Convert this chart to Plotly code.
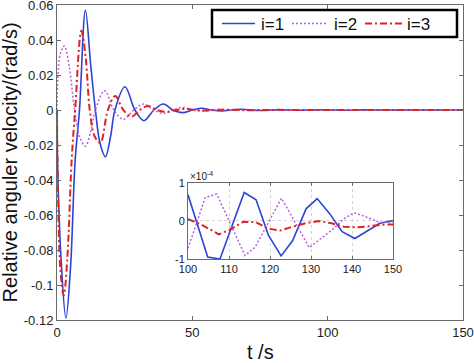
import plotly.graph_objects as go

# ---------------- data ----------------
# main view (t in s, velocity in rad/s)
t_i1 = [0, 0.2, 1.5, 3.3, 5.0, 6.7, 8.3, 10.5, 12.5, 14.2, 15.9, 17.9, 19.8, 21.4, 25.1, 28.8, 32.1, 35.8,
        39.3, 42.8, 46.4, 50.0, 53.5, 57.0, 60.5, 67.6, 75.0, 82.0, 89.0, 96.0]
v_i1 = [0, -0.03, -0.085, -0.119, -0.09, -0.029, 0.0, 0.057, 0.025, 0.0, -0.019, -0.0267, -0.015, 0.0, 0.0133,
        0.0, -0.0061, 0.0, 0.0034, 0.0, -0.0015, 0.0, 0.001, 0.0, -0.0006, 0.0004, -0.0003, 0.0002, -0.00015, 0.0001]

t_i2 = [0, 0.3, 1.2, 2.7, 4.5, 6.5, 8.5, 10.5, 12.5, 14.2, 17.6, 21.0, 24.5, 28.3, 32.1, 35.7, 39.3, 43.0,
        46.5, 50.0, 54.0, 61.0, 68.0, 75.0, 82.0, 89.0, 96.0]
v_i2 = [0, 0.018, 0.032, 0.0366, 0.025, 0.0, -0.016, -0.0206, -0.012, 0.0, 0.011, 0.0, -0.0053, 0.0, 0.0034,
        0.0, -0.0019, 0.0, 0.0015, 0.0, -0.0006, 0.0003, -0.0002, 0.00015, -0.0001, 0.0001, -0.00008]

t_i3 = [0, 0.3, 1.2, 2.5, 3.8, 5.4, 6.7, 9.0, 10.6, 12.1, 13.9, 16.0, 18.8, 21.5, 24.5, 27.6, 30.6, 33.7,
        37.0, 40.5, 44.0, 47.0, 54.0, 61.0, 70.0, 80.0, 90.0]
v_i3 = [0, -0.04, -0.09, -0.106, -0.085, -0.029, 0.0, 0.0453, 0.03, 0.0, -0.015, -0.0187, 0.0, 0.008, 0.0,
        -0.0038, 0.0, 0.0023, 0.0, -0.001, 0.0, 0.0006, -0.0003, 0.0002, -0.0001, 0.00005, -0.00003]

# zoomed view, t from 100 to 150 s, velocity in units of 1e-4 rad/s
zt_i1 = [100, 104.8, 107.8, 113.7, 116.6, 119.6, 122.7, 125.5, 128.8, 131.5, 134.5, 137.6, 140.7, 143.7, 146.8, 150]
zv_i1 = [0.69, -0.95, -1.0, 0.75, 0.56, -0.37, -0.92, -0.52, 0.32, 0.59, 0.2, -0.28, -0.46, -0.26, -0.06, 0.01]

zt_i2 = [100, 104.2, 107.0, 113.9, 116.3, 122.8, 129.6, 132.6, 135.5, 137.9, 140.5, 143.6, 146.8, 150]
zv_i2 = [-0.72, 0.62, 0.71, -0.91, -0.7, 0.6, -0.7, -0.45, -0.2, 0.05, 0.22, 0.1, -0.04, -0.03]

zt_i3 = [100, 103.0, 107.5, 110.0, 113.5, 116.5, 119.5, 122.5, 125.5, 129.0, 132.0, 135.0, 138.0, 141.0, 144.0, 147.0, 150]
zv_i3 = [0.05, -0.08, -0.35, -0.24, -0.02, -0.03, -0.2, -0.25, -0.15, -0.05, 0.0, -0.06, -0.15, -0.17, -0.14, -0.1, -0.09]

series_names = ["i=1", "i=2", "i=3"]
y_tickvals = [-0.12, -0.1, -0.08, -0.06, -0.04, -0.02, 0, 0.02, 0.04, 0.06]
y_ticktext = ["-0.12", "-0.1", "-0.08", "-0.06", "-0.04", "-0.02", "0", "0.02", "0.04", "0.06"]
x_tickvals = [0, 50, 100, 150]
zx_tickvals = [100, 110, 120, 130, 140, 150]
zy_tickvals = [-1, 0, 1]

# ---------------- styling ----------------
colors = ["#2b44d6", "#b462de", "#e02320"]
dashes = ["solid", "2px,2px", "7px,3px,2px,3px"]
widths = [1.6, 1.5, 2.0]
FONT = "Liberation Sans, Arial, sans-serif"
AXC = "#6a6a6a"

W, H = 474, 363
ML, MR, MT, MB = 57, 11, 5, 43
PW, PH = W - ML - MR, H - MT - MB


def px_to_paper(x, y):
    return (x - ML) / PW, (H - MB - y) / PH


fig = go.Figure()

main = [(t_i1, v_i1, zt_i1, zv_i1), (t_i2, v_i2, zt_i2, zv_i2), (t_i3, v_i3, zt_i3, zv_i3)]
for k, (t, v, zt, zv) in enumerate(main):
    tt = list(t) + list(zt)
    vv = list(v) + [z * 1e-4 for z in zv]
    fig.add_trace(go.Scatter(x=tt, y=vv, mode="lines", name=series_names[k], showlegend=False,
                             line=dict(color=colors[k], width=widths[k], dash=dashes[k],
                                       shape="spline", smoothing=1.0),
                             xaxis="x", yaxis="y"))
for k, (t, v, zt, zv) in enumerate(main):
    fig.add_trace(go.Scatter(x=zt, y=zv, mode="lines", showlegend=False,
                             line=dict(color=colors[k], width=widths[k], dash=dashes[k]),
                             xaxis="x2", yaxis="y2"))

annotations = [
    dict(text="×10<sup>-4</sup>", xref="x2 domain", yref="y2 domain", x=0.0, y=1.0,
         xanchor="left", yanchor="bottom", showarrow=False, font=dict(size=10, color="#222"),
         yshift=-1),
    dict(text="t /s", xref="paper", yref="paper", x=0.5, y=-0.1016, xanchor="center",
         yanchor="middle", showarrow=False, font=dict(size=20, color="#111")),
    dict(text="Relative anguler velocity/(rad/s)", xref="paper", yref="paper", x=-0.116, y=0.5,
         xanchor="center", yanchor="middle", textangle=-90, showarrow=False,
         font=dict(size=20, color="#111")),
]

shapes = [dict(type="rect", xref="x2 domain", yref="y2 domain", x0=0, x1=1, y0=0, y1=1,
               fillcolor="white", line=dict(width=0), layer="below")]

# legend box (drawn as a framed box like the MATLAB legend)
bx0, by0 = px_to_paper(212, 37)
bx1, by1 = px_to_paper(457, 10)
shapes.append(dict(type="rect", xref="paper", yref="paper", x0=bx0, x1=bx1, y0=by0, y1=by1,
                   fillcolor="white", line=dict(color="black", width=2.5), layer="above"))
leg_line_x = [(222, 255), (292, 327), (365, 402)]
leg_text_x = [259, 332, 405]
leg_y = 23.5
for k in range(3):
    lx0, ly = px_to_paper(leg_line_x[k][0], leg_y)
    lx1, _ = px_to_paper(leg_line_x[k][1], leg_y)
    shapes.append(dict(type="line", xref="paper", yref="paper", x0=lx0, x1=lx1, y0=ly, y1=ly,
                       line=dict(color=colors[k], width=widths[k], dash=dashes[k]), layer="above"))
    tx, ty = px_to_paper(leg_text_x[k], leg_y + 0.5)
    annotations.append(dict(text=series_names[k], xref="paper", yref="paper", x=tx, y=ty,
                            xanchor="left", yanchor="middle", showarrow=False,
                            font=dict(size=17, color="#111")))

fig.update_layout(
    width=W, height=H,
    margin=dict(l=ML, r=MR, t=MT, b=MB, autoexpand=False),
    paper_bgcolor="white", plot_bgcolor="white",
    font=dict(family=FONT, size=13, color="#222"),
    showlegend=False,
    xaxis=dict(domain=[0, 1], range=[0, 150], tickvals=x_tickvals, ticks="inside", ticklen=4,
               tickcolor=AXC, showline=True, linecolor=AXC, linewidth=1, mirror="ticks",
               showgrid=False, zeroline=False, tickfont=dict(size=13), automargin=False,
               ticklabeloverflow="allow"),
    yaxis=dict(domain=[0, 1], range=[-0.12, 0.06], tickvals=y_tickvals, ticktext=y_ticktext,
               ticks="inside", ticklen=4, tickcolor=AXC, showline=True, linecolor=AXC, linewidth=1,
               mirror="ticks", showgrid=False, zeroline=False, tickfont=dict(size=13), automargin=False,
               ticklabeloverflow="allow"),
    xaxis2=dict(domain=[0.3227, 0.8276], anchor="y2", range=[100, 150], tickvals=zx_tickvals,
                ticks="inside", ticklen=3, tickcolor=AXC, showline=True, linecolor=AXC, linewidth=1,
                mirror="ticks", showgrid=True, gridcolor="#d4d4d4", griddash="dot", gridwidth=1,
                zeroline=False, tickfont=dict(size=11), automargin=False),
    yaxis2=dict(domain=[0.1937, 0.4349], anchor="x2", range=[-1, 1], tickvals=zy_tickvals,
                ticktext=["-1", "0", "1"],
                ticks="inside", ticklen=3, tickcolor=AXC, showline=True, linecolor=AXC, linewidth=1,
                mirror="ticks", showgrid=True, gridcolor="#d4d4d4", griddash="dot", gridwidth=1,
                zeroline=False, tickfont=dict(size=11), automargin=False),
    annotations=annotations,
    shapes=shapes,
)

fig.write_html("out.html", config={"displayModeBar": False},
               post_script="document.body.style.margin='0';document.body.style.overflow='hidden';")
